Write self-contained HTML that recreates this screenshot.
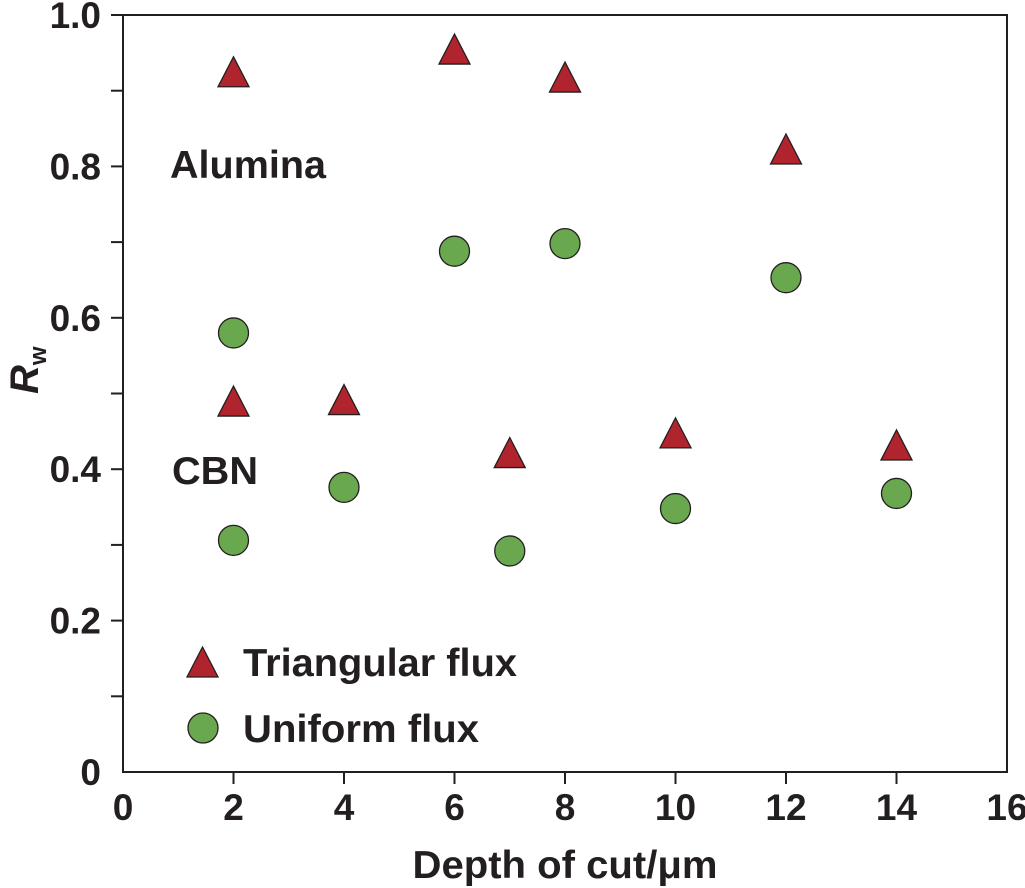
<!DOCTYPE html>
<html><head><meta charset="utf-8"><style>
html,body{margin:0;padding:0;background:#fff;}
svg{display:block;font-family:"Liberation Sans",Arial,sans-serif;font-weight:bold;}
</style></head><body>
<svg id="chart" width="1025" height="888" viewBox="0 0 1025 888">
<g id="axes"></g>
<g id="marks"></g>
<text x="170" y="178" font-size="39" textLength="156" lengthAdjust="spacingAndGlyphs" fill="#231f20">Alumina</text>
<text x="172" y="484" font-size="39" textLength="86" lengthAdjust="spacingAndGlyphs" fill="#231f20">CBN</text>
<g>
<polygon points="187,677 202.5,647 218,677" fill="#b0252d" stroke="#231f20" stroke-width="1.3"/>
<text x="243" y="676" font-size="39" textLength="274" lengthAdjust="spacingAndGlyphs" fill="#231f20">Triangular flux</text>
<circle cx="203" cy="728" r="15" fill="#6aa84f" stroke="#231f20" stroke-width="1.3"/>
<text x="243" y="742" font-size="39" textLength="236" lengthAdjust="spacingAndGlyphs" fill="#231f20">Uniform flux</text>
</g>
<text x="565" y="878" font-size="39" text-anchor="middle" textLength="305" lengthAdjust="spacingAndGlyphs" fill="#231f20">Depth of cut/μm</text>
<g transform="translate(38,394) rotate(-90)">
<text x="0" y="0" font-size="40" font-style="italic" fill="#231f20">R<tspan font-size="24" dy="8" font-style="normal">w</tspan></text>
</g>
</svg>
<script>
const xTicks = [0,2,4,6,8,10,12,14,16];
const yTicks = [0,0.1,0.2,0.3,0.4,0.5,0.6,0.7,0.8,0.9,1.0];
const yTickLabels = ["0","","0.2","","0.4","","0.6","","0.8","","1.0"];
const triX = [2,6,8,12,2,4,7,10,14];
const triY = [0.925,0.955,0.918,0.823,0.49,0.492,0.422,0.448,0.432];
const cirX = [2,6,8,12,2,4,7,10,14];
const cirY = [0.58,0.688,0.698,0.653,0.306,0.376,0.292,0.348,0.368];

const L=123,R=1007,T=15,B=772;
const xs=v=>L+(v-0)/(16-0)*(R-L);
const ys=v=>B-(v-0)/(1-0)*(B-T);
const NS="http://www.w3.org/2000/svg";
const axes=document.getElementById('axes');
const marks=document.getElementById('marks');
function mk(t,a,p){const e=document.createElementNS(NS,t);for(const k in a)e.setAttribute(k,a[k]);p.appendChild(e);return e;}

const frame=mk('rect',{x:L,y:T,width:R-L,height:B-T,fill:'none',stroke:'#231f20','stroke-width':2},axes);



xTicks.forEach((v,i)=>{
  const x=xs(v);
  if(i>0&&i<xTicks.length-1){
    const t=mk('line',{x1:x,y1:B,x2:x,y2:B+12,stroke:'#231f20','stroke-width':2},axes);
    
    
  }
  const lb=mk('text',{x:x,y:B+48,'font-size':37,'text-anchor':'middle',fill:'#231f20'},axes);
  lb.textContent=String(v);
  
  
});
yTicks.forEach((v,i)=>{
  const y=ys(v);
  if(i>0){
    const t=mk('line',{x1:L-12,y1:y,x2:L,y2:y,stroke:'#231f20','stroke-width':2},axes);
    
    
  }
  if(yTickLabels[i]){
    const lb=mk('text',{x:L-22,y:y+13,'font-size':37,'text-anchor':'end',fill:'#231f20'},axes);
    lb.textContent=yTickLabels[i];
    
    
  }
});
triX.forEach((v,i)=>{
  const x=xs(v),y=ys(triY[i]);
  const p=mk('polygon',{points:`${x-15.5},${y+15} ${x},${y-15} ${x+15.5},${y+15}`,fill:'#b0252d',stroke:'#231f20','stroke-width':1.3},marks);
  
  
});
cirX.forEach((v,i)=>{
  const c=mk('circle',{cx:xs(v),cy:ys(cirY[i]),r:15,fill:'#6aa84f',stroke:'#231f20','stroke-width':1.3},marks);
  
  
});
</script>
</body></html>
